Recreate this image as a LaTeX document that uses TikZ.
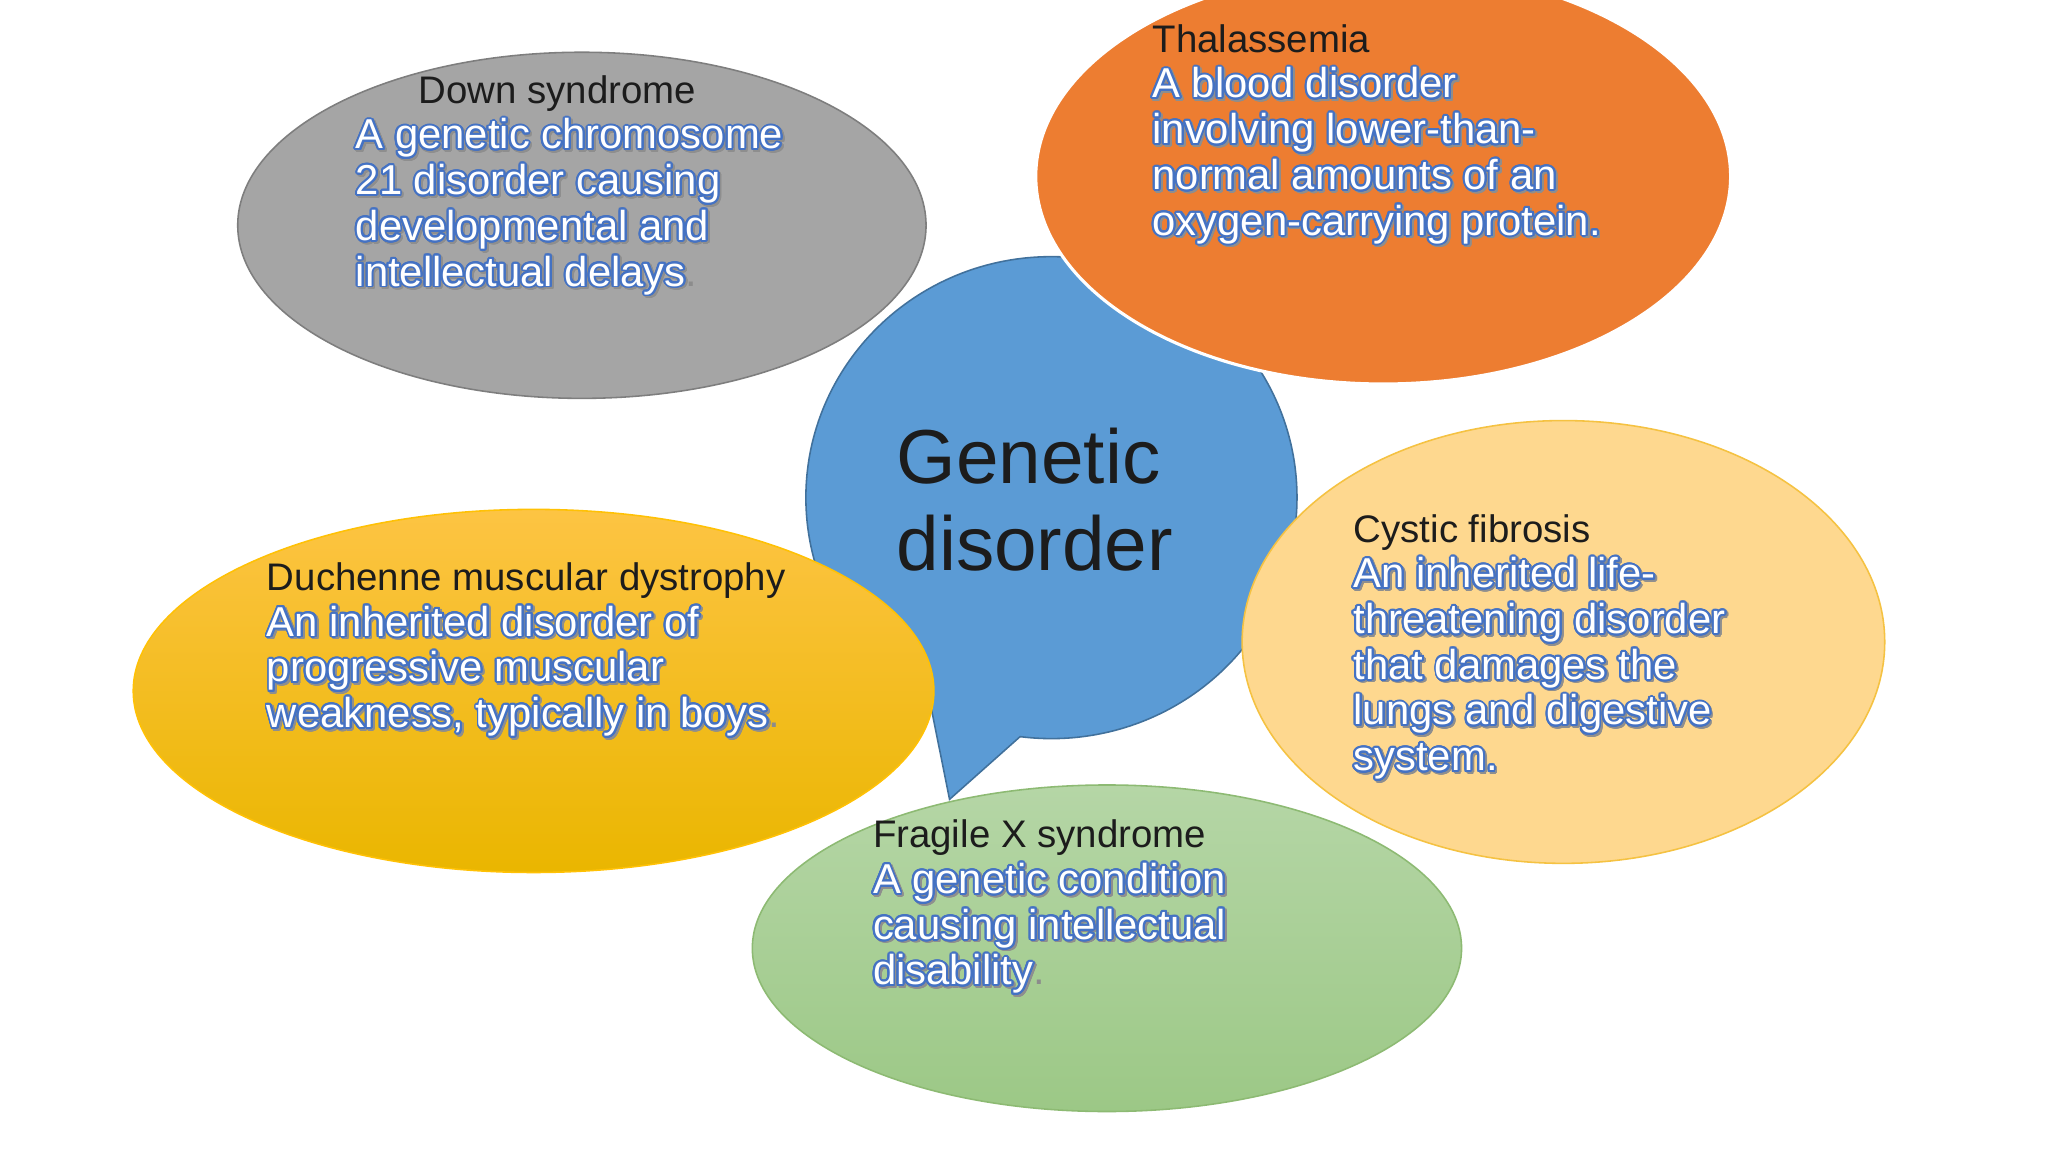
\documentclass[tikz,border=0pt]{standalone}
\usepackage{fontspec}
\setmainfont{Liberation Sans}
\usepackage[copies]{contour}
\contourlength{0.75pt}
\contournumber{24}
\usetikzlibrary{shapes.geometric,shapes.callouts}

\definecolor{downgray}{HTML}{A5A5A5}
\definecolor{downedge}{HTML}{7E7E7E}
\definecolor{thalorange}{HTML}{ED7D31}
\definecolor{gdblue}{HTML}{5B9BD5}
\definecolor{gdedge}{HTML}{41719C}
\definecolor{dmdtop}{HTML}{FDC443}
\definecolor{dmdmid}{HTML}{FFC105}
\definecolor{dmdbot}{HTML}{EAB600}
\definecolor{cfyellow}{HTML}{FED88F}
\definecolor{cfedge}{HTML}{F5C242}
\definecolor{fxtop}{HTML}{B5D6A6}
\definecolor{fxbot}{HTML}{9CC886}
\definecolor{fxedge}{HTML}{8DBA73}
\definecolor{inktext}{HTML}{1C1C1C}
\definecolor{wablue}{HTML}{4472C4}
\definecolor{washadow}{HTML}{8E8E8E}
\definecolor{dotgray}{HTML}{8C8C8C}

% WordArt-like lines: white letters, blue rim, soft shadow
\newcommand{\wart}[1]{\rlap{\kern0.7pt\raisebox{-0.7pt}{\color{washadow}\contour{washadow}{#1}}}\contour{wablue}{#1}}
\newcommand{\ttl}[1]{{\fontsize{14.7}{17.5}\selectfont\color{inktext}#1}}

\tikzset{
  blob/.style={ellipse, inner sep=0pt, line width=0.6pt},
  infotext/.style={anchor=base west, align=left, inner sep=0pt, text=white,
    font=\fontsize{16}{17.5}\selectfont}
}

\begin{document}
\begin{tikzpicture}[x=0.5pt,y=-0.5pt]
  \clip (0,0) rectangle (1568,882);
  \fill[white] (0,0) rectangle (1568,882);

  % ellipses and the bubble
  \node[blob, fill=downgray, draw=downedge, minimum width=263.5pt, minimum height=132.5pt]
    (downblob) at (445.5,172.5) {};
  \node[ellipse callout, fill=gdblue, draw=gdedge, line width=0.6pt,
    minimum width=188pt, minimum height=184.5pt,
    callout absolute pointer={(727,612)}, callout pointer arc=22]
    (gdbubble) at (805,381) {};
  \node[blob, fill=thalorange, draw=white, line width=1.2pt, minimum width=266pt, minimum height=159pt]
    (thalblob) at (1059,135) {};
  \node[blob, top color=dmdtop, middle color=dmdmid, bottom color=dmdbot, draw=dmdmid,
    minimum width=306.5pt, minimum height=139pt]
    (dmdblob) at (408.5,529) {};
  \node[blob, fill=cfyellow, draw=cfedge, minimum width=246pt, minimum height=169.5pt]
    (cfblob) at (1197,491.5) {};
  \node[blob, top color=fxtop, bottom color=fxbot, draw=fxedge, minimum width=271.5pt, minimum height=125pt]
    (fxblob) at (847.5,726) {};

  % texts (anchored on the baseline of the last line)
  \node[anchor=base west, align=left, inner sep=0pt, text=inktext,
    font=\fontsize{29.3}{33.5}\selectfont] (gdtext) at (686,437) {Genetic\\disorder};

  \node[infotext] (downtext) at (272,219) {%
    \hspace*{24pt}\ttl{Down syndrome}\\
    \wart{A genetic chromosome}\\
    \wart{21 disorder causing}\\
    \wart{developmental and}\\
    \wart{intellectual delays}{\color{dotgray}.}};
  \node[infotext] (thaltext) at (882,180) {%
    \ttl{Thalassemia}\\
    \wart{A blood disorder}\\
    \wart{involving lower-than-}\\
    \wart{normal amounts of an}\\
    \wart{oxygen-carrying protein.}};
  \node[infotext] (dmdtext) at (204,557) {%
    \ttl{Duchenne muscular dystrophy}\\
    \wart{An inherited disorder of}\\
    \wart{progressive muscular}\\
    \wart{weakness, typically in boys}{\color{dotgray}.}};
  \node[infotext] (cftext) at (1036,590) {%
    \ttl{Cystic fibrosis}\\
    \wart{An inherited life-}\\
    \wart{threatening disorder}\\
    \wart{that damages the}\\
    \wart{lungs and digestive}\\
    \wart{system.}};
  \node[infotext] (fxtext) at (668,754) {%
    \ttl{Fragile X syndrome}\\
    \wart{A genetic condition}\\
    \wart{causing intellectual}\\
    \wart{disability}{\color{dotgray}.}};
\end{tikzpicture}
\end{document}
